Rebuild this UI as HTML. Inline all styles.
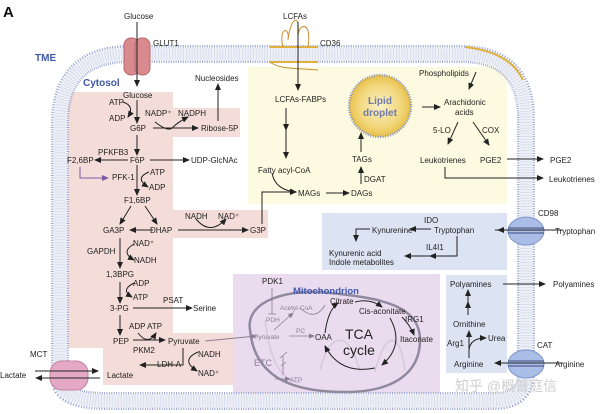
<!DOCTYPE html>
<html><head><meta charset="utf-8"><style>
html,body{margin:0;padding:0;background:#fff}
svg{display:block}
text{font-family:"Liberation Sans","Noto Sans CJK SC",sans-serif;font-size:8px;fill:#222}
</style></head><body>
<svg width="600" height="414" viewBox="0 0 600 414" xmlns="http://www.w3.org/2000/svg">
<defs>
<marker id="a" markerWidth="7" markerHeight="6" refX="6" refY="3" orient="auto" markerUnits="userSpaceOnUse"><path d="M0,0 L7,3 L0,6z" fill="#222"/></marker>
<marker id="ag" markerWidth="6" markerHeight="5" refX="5" refY="2.5" orient="auto" markerUnits="userSpaceOnUse"><path d="M0,0 L6,2.5 L0,5z" fill="#8a7f92"/></marker>
<marker id="ap" markerWidth="7" markerHeight="6" refX="6" refY="3" orient="auto" markerUnits="userSpaceOnUse"><path d="M0,0 L7,3 L0,6z" fill="#7b5aa6"/></marker>
<radialGradient id="ld"><stop offset="0" stop-color="#fbf1c8"/><stop offset="0.7" stop-color="#f1d67a"/><stop offset="1" stop-color="#e8c04a"/></radialGradient>
</defs>

<rect x="248" y="67" width="259" height="137" fill="#fcfbe1"/>
<path d="M68,92 H173 V108 H240 V137 H173 V210 H268 V238 H173 V333 H235 V385 H103 V348 H68 Z" fill="#f4ddd8"/>
<rect x="322" y="213" width="185" height="57" fill="#dce3f3"/>
<rect x="446" y="275" width="61" height="98" fill="#dce3f3"/>
<rect x="233" y="274" width="207" height="119" fill="#eadcee"/>

<g fill="none">
<path d="M60,380 V124 Q60,54 130,54 H461 Q526,54 526,119 V372 Q526,401 495,401 H105 C80,401 60,395 60,380" stroke="#9aa6d2" stroke-width="18" stroke-dasharray="1 1.4"/>
<path d="M60,380 V124 Q60,54 130,54 H461 Q526,54 526,119 V372 Q526,401 495,401 H105 C80,401 60,395 60,380" stroke="#eef0f7" stroke-width="13"/>
<path d="M60,380 V124 Q60,54 130,54 H461 Q526,54 526,119 V372 Q526,401 495,401 H105 C80,401 60,395 60,380" stroke="#d3d9ea" stroke-width="11" stroke-dasharray="0.8 2"/>
<path d="M465,47 Q510,52 523,80" stroke="#e0b040" stroke-width="2"/>
<path d="M270,47 H318 M270,62 H318" stroke="#e0b040" stroke-width="2"/>
</g>

<text x="3" y="17" style="font-size:15px;font-weight:bold;fill:#111">A</text>
<text x="35" y="61" style="font-size:10px;font-weight:bold;fill:#3f57a8">TME</text>
<text x="83" y="86" style="font-size:10px;font-weight:bold;fill:#3f57a8">Cytosol</text>

<rect x="124" y="38" width="15" height="37" rx="7" fill="#d98a8f" stroke="#b96670"/>
<rect x="135" y="38" width="15" height="37" rx="7" fill="#d98a8f" stroke="#b96670"/>
<line x1="137" y1="22" x2="137" y2="86" stroke="#222" marker-end="url(#a)"/>
<text x="124" y="19">Glucose</text>
<text x="153" y="46">GLUT1</text>

<g stroke="#222" fill="none" stroke-width="1">
<line x1="137" y1="100" x2="137" y2="123" marker-end="url(#a)"/>
<path d="M123,102 Q135,106 128,117" marker-end="url(#a)"/>
<line x1="153" y1="128" x2="198" y2="128" marker-end="url(#a)"/>
<path d="M155,122 Q168,132 172,128 Q178,122 188,117" marker-end="url(#a)"/>
<line x1="218" y1="121" x2="218" y2="84" marker-end="url(#a)"/>
<line x1="137" y1="135" x2="137" y2="155" marker-end="url(#a)"/>
<line x1="128" y1="160" x2="95" y2="160" marker-end="url(#a)"/>
<line x1="150" y1="160" x2="189" y2="160" marker-end="url(#a)"/>
<line x1="137" y1="165" x2="137" y2="195" marker-end="url(#a)"/>
<path d="M149,172 Q134,178 148,187" marker-end="url(#a)"/>
<line x1="131" y1="206" x2="120" y2="224" marker-end="url(#a)"/>
<line x1="145" y1="206" x2="157" y2="224" marker-end="url(#a)"/>
<line x1="153" y1="230" x2="130" y2="230" marker-end="url(#a)"/>
<line x1="178" y1="230" x2="248" y2="230" marker-end="url(#a)"/>
<path d="M196,219 Q210,236 226,219" marker-end="url(#a)"/>
<path d="M262,224 V192 H276" />
<line x1="120" y1="238" x2="120" y2="268" marker-end="url(#a)"/>
<path d="M134,244 Q120,252 134,260" marker-end="url(#a)"/>
<line x1="120" y1="282" x2="120" y2="303" marker-end="url(#a)"/>
<path d="M134,283 Q120,290 132,297" marker-end="url(#a)"/>
<line x1="133" y1="308" x2="192" y2="308" marker-end="url(#a)"/>
<line x1="120" y1="315" x2="120" y2="335" marker-end="url(#a)"/>
<line x1="133" y1="340" x2="165" y2="340" marker-end="url(#a)"/>
<path d="M138,333 Q148,346 156,333" marker-end="url(#a)"/>
<path d="M183,348 V365 H140" marker-end="url(#a)"/>
<path d="M198,352 Q180,360 197,371" marker-end="url(#a)"/>
<line x1="35" y1="371" x2="98" y2="371" marker-end="url(#a)"/>
<line x1="100" y1="378" x2="36" y2="378" marker-end="url(#a)"/>
</g>
<path d="M80,167 V178 H108" stroke="#7b5aa6" fill="none" marker-end="url(#ap)"/>
<g>
<text x="123" y="98">Glucose</text>
<text x="109" y="105">ATP</text>
<text x="109" y="121">ADP</text>
<text x="145" y="116">NADP⁺</text>
<text x="178" y="116">NADPH</text>
<text x="130" y="131">G6P</text>
<text x="201" y="131">Ribose-5P</text>
<text x="195" y="81">Nucleosides</text>
<text x="98" y="155">PFKFB3</text>
<text x="67" y="163">F2,6BP</text>
<text x="130" y="163">F6P</text>
<text x="191" y="163">UDP-GlcNAc</text>
<text x="112" y="180">PFK-1</text>
<text x="150" y="175">ATP</text>
<text x="149" y="190">ADP</text>
<text x="124" y="203">F1,6BP</text>
<text x="103" y="233">GA3P</text>
<text x="150" y="233">DHAP</text>
<text x="185" y="219">NADH</text>
<text x="218" y="219">NAD⁺</text>
<text x="250" y="233">G3P</text>
<text x="87" y="254">GAPDH</text>
<text x="133" y="246">NAD⁺</text>
<text x="134" y="263">NADH</text>
<text x="106" y="277">1,3BPG</text>
<text x="133" y="286">ADP</text>
<text x="133" y="300">ATP</text>
<text x="110" y="311">3-PG</text>
<text x="163" y="303">PSAT</text>
<text x="193" y="311">Serine</text>
<text x="129" y="329">ADP ATP</text>
<text x="113" y="344">PEP</text>
<text x="133" y="353">PKM2</text>
<text x="168" y="344">Pyruvate</text>
<text x="198" y="357">NADH</text>
<text x="157" y="367">LDH-A</text>
<text x="198" y="376">NAD⁺</text>
<text x="107" y="378">Lactate</text>
<text x="30" y="357">MCT</text>
<text x="0" y="378">Lactate</text>
</g>
<rect x="50" y="361" width="38" height="29" rx="12" fill="#e3a9c5" stroke="#c483a3"/>
<line x1="50" y1="371" x2="98" y2="371" stroke="#222"/>
<line x1="36" y1="378" x2="100" y2="378" stroke="#222"/>

<path d="M283,47 C278,28 290,25 288,40 C290,20 300,10 298,35 C300,22 312,22 308,47 M270,62 C280,70 300,68 318,70" stroke="#c8902f" fill="none"/>
<line x1="298" y1="22" x2="298" y2="90" stroke="#222" marker-end="url(#a)"/>
<text x="283" y="19">LCFAs</text>
<text x="320" y="46">CD36</text>
<text x="275" y="102">LCFAs-FABPs</text>
<g stroke="#222" fill="none">
<line x1="286" y1="108" x2="286" y2="130" marker-end="url(#a)"/>
<line x1="286" y1="130" x2="286" y2="158" marker-end="url(#a)"/>
<path d="M272,173 Q275,190 296,192" marker-end="url(#a)"/>
<line x1="276" y1="192" x2="296" y2="192" marker-end="url(#a)"/>
<line x1="326" y1="193" x2="349" y2="193" marker-end="url(#a)"/>
<line x1="361" y1="184" x2="361" y2="167" marker-end="url(#a)"/>
<line x1="361" y1="152" x2="361" y2="133" marker-end="url(#a)"/>
<line x1="422" y1="107" x2="440" y2="107" marker-end="url(#a)"/>
<line x1="476" y1="72" x2="469" y2="89" marker-end="url(#a)"/>
<line x1="458" y1="122" x2="448" y2="144" marker-end="url(#a)"/>
<line x1="473" y1="122" x2="489" y2="145" marker-end="url(#a)"/>
<line x1="507" y1="159" x2="543" y2="159" marker-end="url(#a)"/>
<path d="M445,167 V178 H543" marker-end="url(#a)"/>
</g>
<circle cx="380" cy="106" r="31" fill="url(#ld)" stroke="#8a94c0" stroke-width="2.5" stroke-dasharray="1 1.5"/>
<text x="380" y="104" text-anchor="middle" style="font-size:10px;font-weight:bold;fill:#6f7aa8">Lipid</text>
<text x="380" y="116" text-anchor="middle" style="font-size:10px;font-weight:bold;fill:#6f7aa8">droplet</text>
<text x="258" y="173">Fatty acyl-CoA</text>
<text x="298" y="196">MAGs</text>
<text x="351" y="196">DAGs</text>
<text x="364" y="182">DGAT</text>
<text x="352" y="162">TAGs</text>
<text x="419" y="76">Phospholipids</text>
<text x="444" y="105">Arachidonic</text>
<text x="455" y="115">acids</text>
<text x="433" y="133">5-LO</text>
<text x="482" y="133">COX</text>
<text x="420" y="163">Leukotrienes</text>
<text x="480" y="163">PGE2</text>
<text x="550" y="163">PGE2</text>
<text x="549" y="182">Leukotrienes</text>

<g stroke="#222" fill="none">
<line x1="563" y1="230" x2="498" y2="230" marker-end="url(#a)"/>
<line x1="431" y1="229" x2="410" y2="229" marker-end="url(#a)"/>
<path d="M370,229 H356 V241" marker-end="url(#a)"/>
<path d="M457,236 V256 H430" marker-end="url(#a)"/>
<line x1="430" y1="256" x2="405" y2="256" marker-end="url(#a)"/>
<line x1="503" y1="284" x2="545" y2="284" marker-end="url(#a)"/>
<line x1="468" y1="315" x2="468" y2="302" marker-end="url(#a)"/>
<line x1="468" y1="303" x2="468" y2="290" marker-end="url(#a)"/>
<line x1="469" y1="358" x2="469" y2="331" marker-end="url(#a)"/>
<path d="M469,350 Q470,338 486,338" marker-end="url(#a)"/>
<line x1="563" y1="363" x2="495" y2="363" marker-end="url(#a)"/>
</g>
<ellipse cx="526" cy="231" rx="18" ry="14" fill="#a9bde6" stroke="#7d95cc"/>
<ellipse cx="526" cy="364" rx="18" ry="14" fill="#a9bde6" stroke="#7d95cc"/>
<line x1="508" y1="228" x2="544" y2="228" stroke="#3c4a7c"/><line x1="508" y1="233" x2="544" y2="233" stroke="#3c4a7c"/>
<line x1="508" y1="361" x2="544" y2="361" stroke="#3c4a7c"/><line x1="508" y1="366" x2="544" y2="366" stroke="#3c4a7c"/>
<line x1="495" y1="230" x2="563" y2="230" stroke="#222"/>
<line x1="495" y1="363" x2="563" y2="363" stroke="#222"/>
<text x="538" y="216">CD98</text>
<text x="555" y="234">Tryptophan</text>
<text x="434" y="233">Tryptophan</text>
<text x="424" y="223">IDO</text>
<text x="372" y="233">Kynurenine</text>
<text x="426" y="250">IL4I1</text>
<text x="329" y="256">Kynurenic acid</text>
<text x="329" y="265">Indole metabolites</text>
<text x="450" y="287">Polyamines</text>
<text x="553" y="287">Polyamines</text>
<text x="453" y="327">Ornithine</text>
<text x="447" y="346">Arg1</text>
<text x="488" y="341">Urea</text>
<text x="454" y="367">Arginine</text>
<text x="537" y="348">CAT</text>
<text x="555" y="367">Arginine</text>

<path d="M250,330 C245,300 290,288 330,293 C380,298 420,305 420,340 C420,372 395,392 345,392 C300,392 255,382 250,330Z" fill="none" stroke="#8f8aa0" stroke-width="2.5"/>
<path d="M265,320 C270,360 280,380 300,383 M320,370 C330,330 350,330 360,372 M375,372 C385,330 400,330 405,370" stroke="#d8c8de" fill="none" stroke-width="1.5"/>
<line x1="205" y1="341" x2="256" y2="336" stroke="#8a7f92" marker-end="url(#ag)"/>
<g stroke="#8a7f92" fill="none" stroke-width="0.8">
<line x1="272" y1="288" x2="272" y2="314"/><line x1="268" y1="314" x2="276" y2="314"/>
<line x1="274" y1="330" x2="293" y2="313" marker-end="url(#ag)"/>
<line x1="289" y1="336" x2="314" y2="336" marker-end="url(#ag)"/>
<path d="M300,308 Q315,322 325,305"/>
<line x1="275" y1="379" x2="290" y2="379" marker-end="url(#ag)"/>
<path d="M283,375 V355 M280,358 L287,352 M281,366 L286,362"/>
</g>
<g stroke="#222" fill="none">
<path d="M325,333 Q328,310 338,303" marker-end="url(#a)"/>
<path d="M355,302 Q370,298 382,307" marker-end="url(#a)"/>
<path d="M402,317 Q410,325 414,335" marker-end="url(#a)"/>
<path d="M390,318 Q405,345 382,365" marker-end="url(#a)"/>
<path d="M375,368 Q340,375 325,346" marker-end="url(#a)"/>
</g>
<text x="262" y="284">PDK1</text>
<text x="293" y="294" style="font-size:9.5px;font-weight:bold;fill:#4058b0">Mitochondrion</text>
<text x="330" y="304">Citrate</text>
<text x="359" y="314">Cis-aconitate</text>
<text x="405" y="322">IRG1</text>
<text x="400" y="342">Itaconate</text>
<text x="280" y="310" style="font-size:6.5px;fill:#8a7f92">Acetyl-CoA</text>
<text x="266" y="322" style="font-size:6.5px;fill:#8a7f92">PDH</text>
<text x="254" y="339" style="font-size:6.5px;fill:#8a7f92">Pyruvate</text>
<text x="296" y="333" style="font-size:6.5px;fill:#8a7f92">PC</text>
<text x="315" y="340">OAA</text>
<text x="345" y="339" style="font-size:14px">TCA</text>
<text x="343" y="355" style="font-size:14px">cycle</text>
<text x="254" y="366" style="font-size:9px;fill:#8a7f92">ETC</text>
<text x="290" y="382" style="font-size:6.5px;fill:#8a7f92">ATP</text>

<text x="455" y="391" style="font-size:14px;fill:#cfcfcf">知乎 @概普庭信</text>
</svg>
</body></html>
